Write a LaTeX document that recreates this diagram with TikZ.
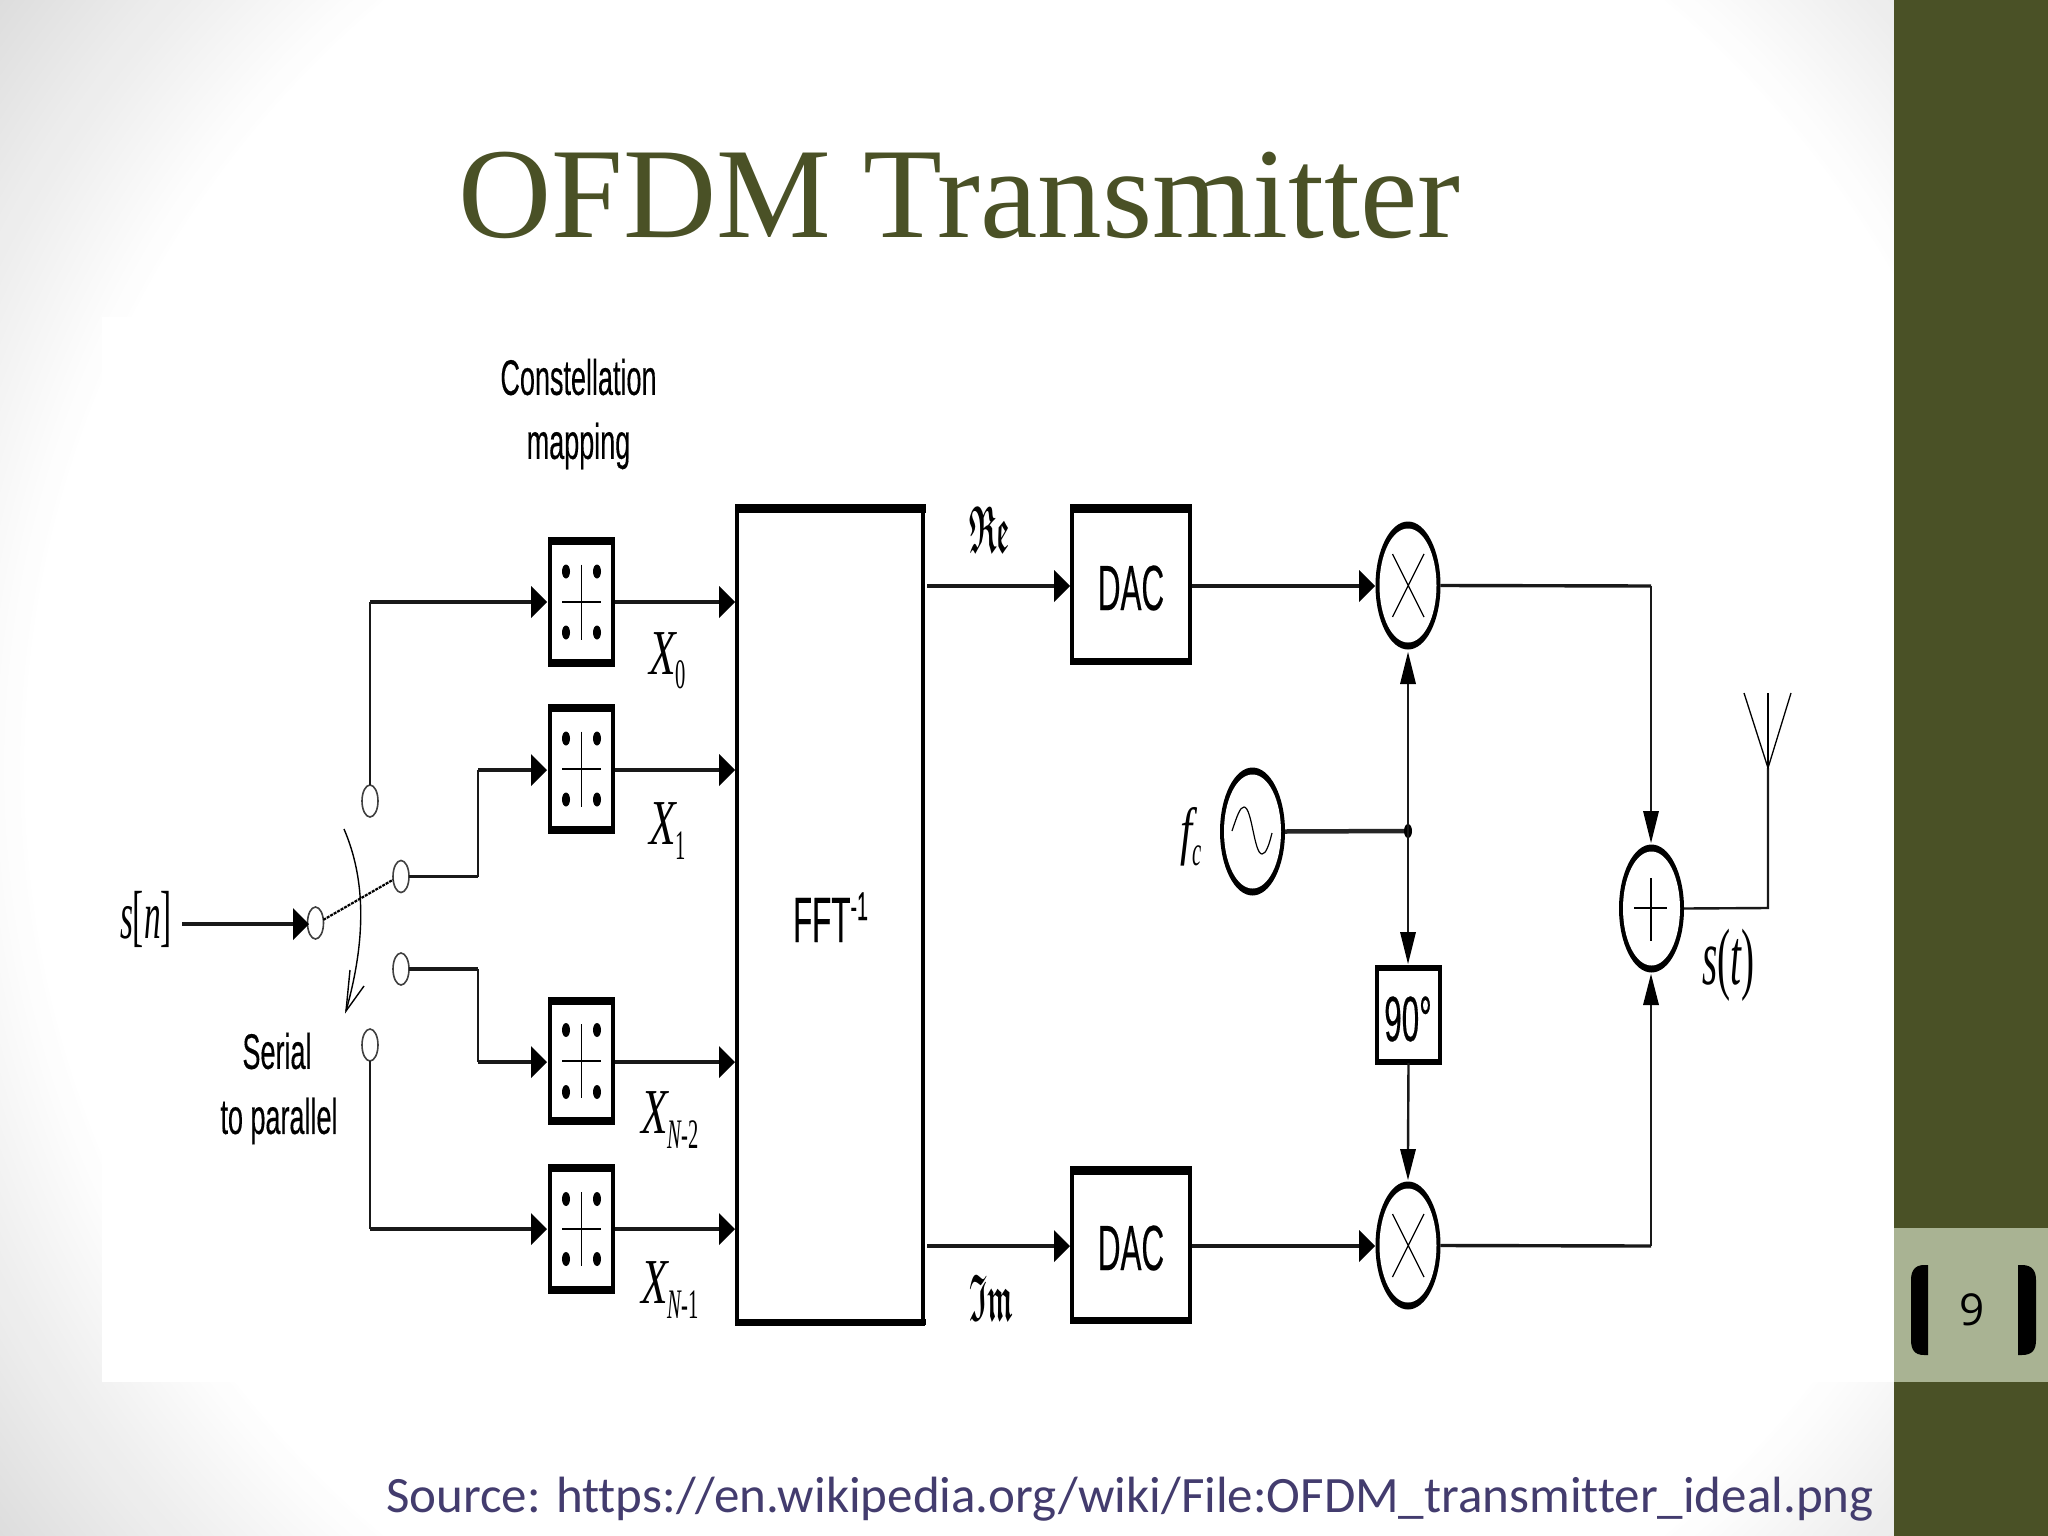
\documentclass[tikz,border=0pt]{standalone}
\usepackage{fontspec}
\usepackage{amsfonts}
\usepackage{graphicx}
\usetikzlibrary{arrows.meta,shapes.geometric}
\setmainfont{Liberation Serif}
\newfontfamily\titlefont{Liberation Serif}
\newfontfamily\srcfont[Ligatures=CommonOff]{Carlito}
\newfontfamily\numfont{Open Sans}
\newfontfamily\nfa[FakeStretch=0.54,FakeBold=0.25]{Liberation Sans}
\newfontfamily\nfb[FakeStretch=0.49,FakeBold=0.25]{Liberation Sans}
\newfontfamily\mitf[FakeStretch=0.68]{Liberation Serif}
\newfontfamily\mitg[FakeStretch=0.49]{Liberation Serif}
\definecolor{slideolive}{HTML}{4A5126}
\definecolor{tabcol}{HTML}{A9B393}
\definecolor{srccol}{HTML}{433C6E}
\newcommand{\fsz}[1]{\fontsize{#1}{#1}\selectfont}
\newcommand{\lab}[3]{{\mitf\fsz{64}\itshape #1\raisebox{#3}{\mitg\fsz{42}#2}}}
\tikzset{
  x=1pt,y=-1pt,
  every node/.style={inner sep=0pt,outer sep=0pt},
  wire/.style={line width=3.4pt,black!90},
  thin wire/.style={line width=2.4pt,black!90},
  sw/.style={ellipse,draw=black!75,line width=1.6pt,fill=white,minimum width=16pt,minimum height=32pt},
  mult/.style={ellipse,fill=black,minimum width=65pt,minimum height=128pt},
  block/.style={draw=black,line width=4pt,fill=white},
  sans label/.style={font=\nfa\fsz{50},align=center},
  big label/.style={font=\nfb\fsz{64}},
  lbl/.style={anchor=base west}
}
% ring: thick at top and bottom, thin at the sides
\newcommand{\ring}[3]{
  \node[mult] (#1) at (#2,#3) {};
  \fill[white] (#2,#3) ellipse [x radius=28.5,y radius=57];
}
% mapper block: #1 name, #2 centre y, #3 half height, #4 dot offset, #5 cross offset
\newcommand{\mapper}[5]{
  \node[draw=black,line width=4pt,fill=white,minimum width=63pt,minimum height=#3*2pt-4pt] (#1) at (581.5,#2) {};
  \fill[black] (548,#2-#3) rectangle (615,#2-#3+8);
  \fill[black] (548,#2+#3-8) rectangle (615,#2+#3);
  \foreach \sx in {-15.5,15.5}\foreach \sy in {-1,1}
    \fill[black] (581.5+\sx,#2+\sy*#4) ellipse [x radius=4,y radius=7];
  \draw[line width=1.6pt] (581.5,#2-#5) -- (581.5,#2+#5);
  \draw[line width=2.2pt] (562,#2) -- (601,#2);
}
\newcommand{\hhead}[3]{\fill[black] (#1-#3,#2-16) -- (#1,#2) -- (#1-#3,#2+16) -- cycle;}
\newcommand{\vhead}[3]{\fill[black] (#1-8,#3) -- (#1,#2) -- (#1+8,#3) -- cycle;}
\begin{document}
\begin{tikzpicture}
\useasboundingbox (0,0) rectangle (2048,1536);
% slide background: white centre that greys towards the corners
\begin{scope}
\clip (0,0) rectangle (1894,1536);
\foreach \r in {1300,1292,...,1004} {
  \pgfmathsetmacro{\shadepc}{(\r-1000)/280*13}
  \fill[black!\shadepc] (1024,768) circle [radius=\r];
}
\fill[white] (1024,768) circle [radius=1000];
\end{scope}
\fill[white] (102,317) rectangle (1894,1382);
\fill[slideolive] (1894,0) rectangle (2048,1536);
\fill[tabcol] (1894,1228) rectangle (2048,1382);
\fill[black] (1928,1265) -- (1924,1265) .. controls (1914,1265) and (1911,1272) .. (1911,1280) -- (1911,1340) .. controls (1911,1349) and (1914,1355) .. (1924,1355) -- (1928,1355) -- cycle;
\fill[black] (2018,1265) -- (2022,1265) .. controls (2033,1265) and (2036,1272) .. (2036,1280) -- (2036,1340) .. controls (2036,1349) and (2033,1355) .. (2022,1355) -- (2018,1355) -- cycle;
\node[font=\numfont\fsz{44},text=black] (pagenum) at (1972,1310) {9};
\node[font=\titlefont\fsz{129},text=slideolive,anchor=base] (title) at (959.5,237) {OFDM Transmitter};
\node[font=\srcfont\fsz{51},text=srccol,anchor=base east] (source) at (1874,1512) {Source: https://en.wikipedia.org/wiki/File:OFDM\_transmitter\_ideal.png};
% text
\node[sans label] (const1) at (578.5,377) {Constellation};
\node[sans label] (const2) at (578.5,446) {mapping};
\node[sans label] (serial) at (277,1051) {Serial};
\node[sans label] (topar) at (279,1121) {to parallel};
% mappers
\mapper{m0}{602}{65}{30.5}{37.5}
\mapper{m1}{769}{65}{30.5}{37.5}
\mapper{m2}{1061}{64}{31}{37}
\mapper{m3}{1229}{65}{30}{37}
% FFT
\node[block,minimum width=186pt,minimum height=817pt,anchor=north west] (fft) at (737,507) {};
\fill[black] (735,504) rectangle (926,513);
\fill[black] (735,1319) rectangle (926,1325);
\node[anchor=base west,font=\nfb\fsz{64}] (fftl) at (793,942) {FFT\raisebox{22pt}{\fsz{40}-1}};
% DACs
\node[block,minimum width=118pt,minimum height=157pt,anchor=north west] (dac1) at (1072,506) {};
\fill[black] (1070,504) rectangle (1192,513);
\fill[black] (1070,658) rectangle (1192,665);
\node[big label] (dac1l) at (1131,588) {DAC};
\node[block,minimum width=118pt,minimum height=154pt,anchor=north west] (dac2) at (1072,1168) {};
\fill[black] (1070,1166) rectangle (1192,1175);
\fill[black] (1070,1317) rectangle (1192,1324);
\node[big label] (dac2l) at (1131,1248) {DAC};
% 90
\node[block,minimum width=63pt,minimum height=96pt,anchor=north west] (ph) at (1377,967) {};
\fill[black] (1375,965) rectangle (1442,971);
\fill[black] (1375,1059) rectangle (1442,1065);
\node[big label] (phl) at (1408,1019) {90°};
% circles
\ring{x1}{1408}{585.5}
\draw[line width=1.2pt] (1392.5,554) -- (1424,617) (1424,554) -- (1392.5,617);
\ring{x2}{1408}{1245.5}
\draw[line width=1.2pt] (1392.5,1214) -- (1424,1277) (1424,1214) -- (1392.5,1277);
\ring{osc}{1252.5}{831.5}
\draw[line width=1.2pt] (1232,831) .. controls (1237,816) and (1240,807) .. (1244,807) .. controls (1252,807) and (1254,854) .. (1262,854) .. controls (1266,854) and (1269,845) .. (1272,833);
\ring{sum}{1651.5}{908.5}
\draw[line width=1.6pt] (1634,908) -- (1667,908) (1651,878) -- (1651,941);
% switch
\node[sw] (s0) at (315.5,923) {};
\node[sw] (s1) at (370,801) {};
\node[sw] (s2) at (401,876.5) {};
\node[sw] (s3) at (401,969) {};
\node[sw] (s4) at (370,1045) {};
\coordinate (inp) at (182,924);
\draw[wire] (inp) -- (296,924);
\hhead{309}{924}{16}
\draw[line width=2.2pt,dash pattern=on 3pt off 1pt] (s0.22) -- (s2.202);
\draw[line width=1.4pt] (344,829) .. controls (366,880) and (366,940) .. (346,1011);
\draw[line width=1.4pt] (350,970) -- (346,1011) -- (364,986);
% wires
\coordinate (c1a) at (370,602);
\coordinate (c2a) at (478,876.5);
\coordinate (c2b) at (478,770);
\coordinate (c3a) at (478,969);
\coordinate (c3b) at (478,1062);
\coordinate (c4a) at (370,1229);
\draw[thin wire] (s1.north) -- (c1a);
\draw[wire] (c1a) -- (535,602);
\hhead{547}{602}{16}
\draw[wire] (s2.east) -- (c2a);
\draw[thin wire] (c2a) -- (c2b);
\draw[wire] (c2b) -- (535,770);
\hhead{547}{770}{16}
\draw[wire] (s3.east) -- (c3a);
\draw[thin wire] (c3a) -- (c3b);
\draw[wire] (c3b) -- (535,1062);
\hhead{547}{1062}{16}
\draw[thin wire] (s4.south) -- (c4a);
\draw[wire] (c4a) -- (535,1229);
\hhead{547}{1229}{16}
\foreach \y in {602,770,1062,1229} {
  \draw[wire] (615,\y) -- (722,\y);
  \hhead{735}{\y}{16}
}
% FFT to DAC
\draw[wire] (927,586) -- (1058,586);
\hhead{1070}{586}{16}
\draw[wire] (927,1246) -- (1058,1246);
\hhead{1070}{1246}{16}
% DAC to mult
\draw[wire] (1192,586) -- (1362,586);
\hhead{1375}{586}{16}
\draw[wire] (1192,1246) -- (1362,1246);
\hhead{1375}{1246}{16}
% oscillator
\coordinate (jun) at (1408,831);
\draw[line width=4.5pt,black!85] (osc.east) -- (jun);
\fill[black] (jun) ellipse [x radius=4,y radius=7];
\draw[thin wire] (jun) -- (1408,680);
\vhead{1408}{652}{684}
\draw[thin wire] (jun) -- (1408,936);
\vhead{1408}{964}{932}
\draw[thin wire] (ph.south) -- (1408,1152);
\vhead{1408}{1180}{1149}
% to sum
\coordinate (c5) at (1651,586);
\coordinate (c6) at (1651,1246);
\draw[wire] (x1.east) -- (c5);
\draw[thin wire] (c5) -- (1651,815);
\vhead{1651}{843}{811}
\draw[wire] (x2.east) -- (c6);
\draw[thin wire] (c6) -- (1651,1000);
\vhead{1651}{974}{1005}
% antenna
\coordinate (a0) at (1768,908);
\coordinate (ap) at (1768,768);
\draw[thin wire] (sum.east) -- (a0) -- (ap);
\draw[line width=1.3pt] (1744,693) -- (ap) -- (1791,693);
\draw[line width=1.3pt] (ap) -- (1768,693);
% math labels
\node[lbl] (x0l) at (649,674) {\lab{X}{\upshape 0}{-14pt}};
\node[lbl] (x1l) at (649,844) {\lab{X}{\upshape 1}{-15pt}};
\node[lbl] (xn2) at (641,1133) {\lab{X}{\itshape N\upshape-2}{-15pt}};
\node[lbl] (xn1) at (641,1303) {\lab{X}{\itshape N\upshape-1}{-15pt}};
\node[lbl] (snl) at (120,938) {{\mitg\fsz{68}\itshape s\upshape[\itshape n\upshape]}};
\node[lbl] (stl) at (1702,984) {{\mitg\fsz{80}\itshape s\upshape(\itshape t\upshape)}};
\node[lbl] (fcl) at (1180,852) {\lab{f}{c}{-13pt}};
\node[lbl] (rel) at (969,552) {\scalebox{1.35}[3.2]{\fsz{20.74}\boldmath$\mathfrak{Re}$}};
\node[lbl] (iml) at (969,1320) {\scalebox{1.35}[3.2]{\fsz{20.74}\boldmath$\mathfrak{Im}$}};
\end{tikzpicture}
\end{document}
